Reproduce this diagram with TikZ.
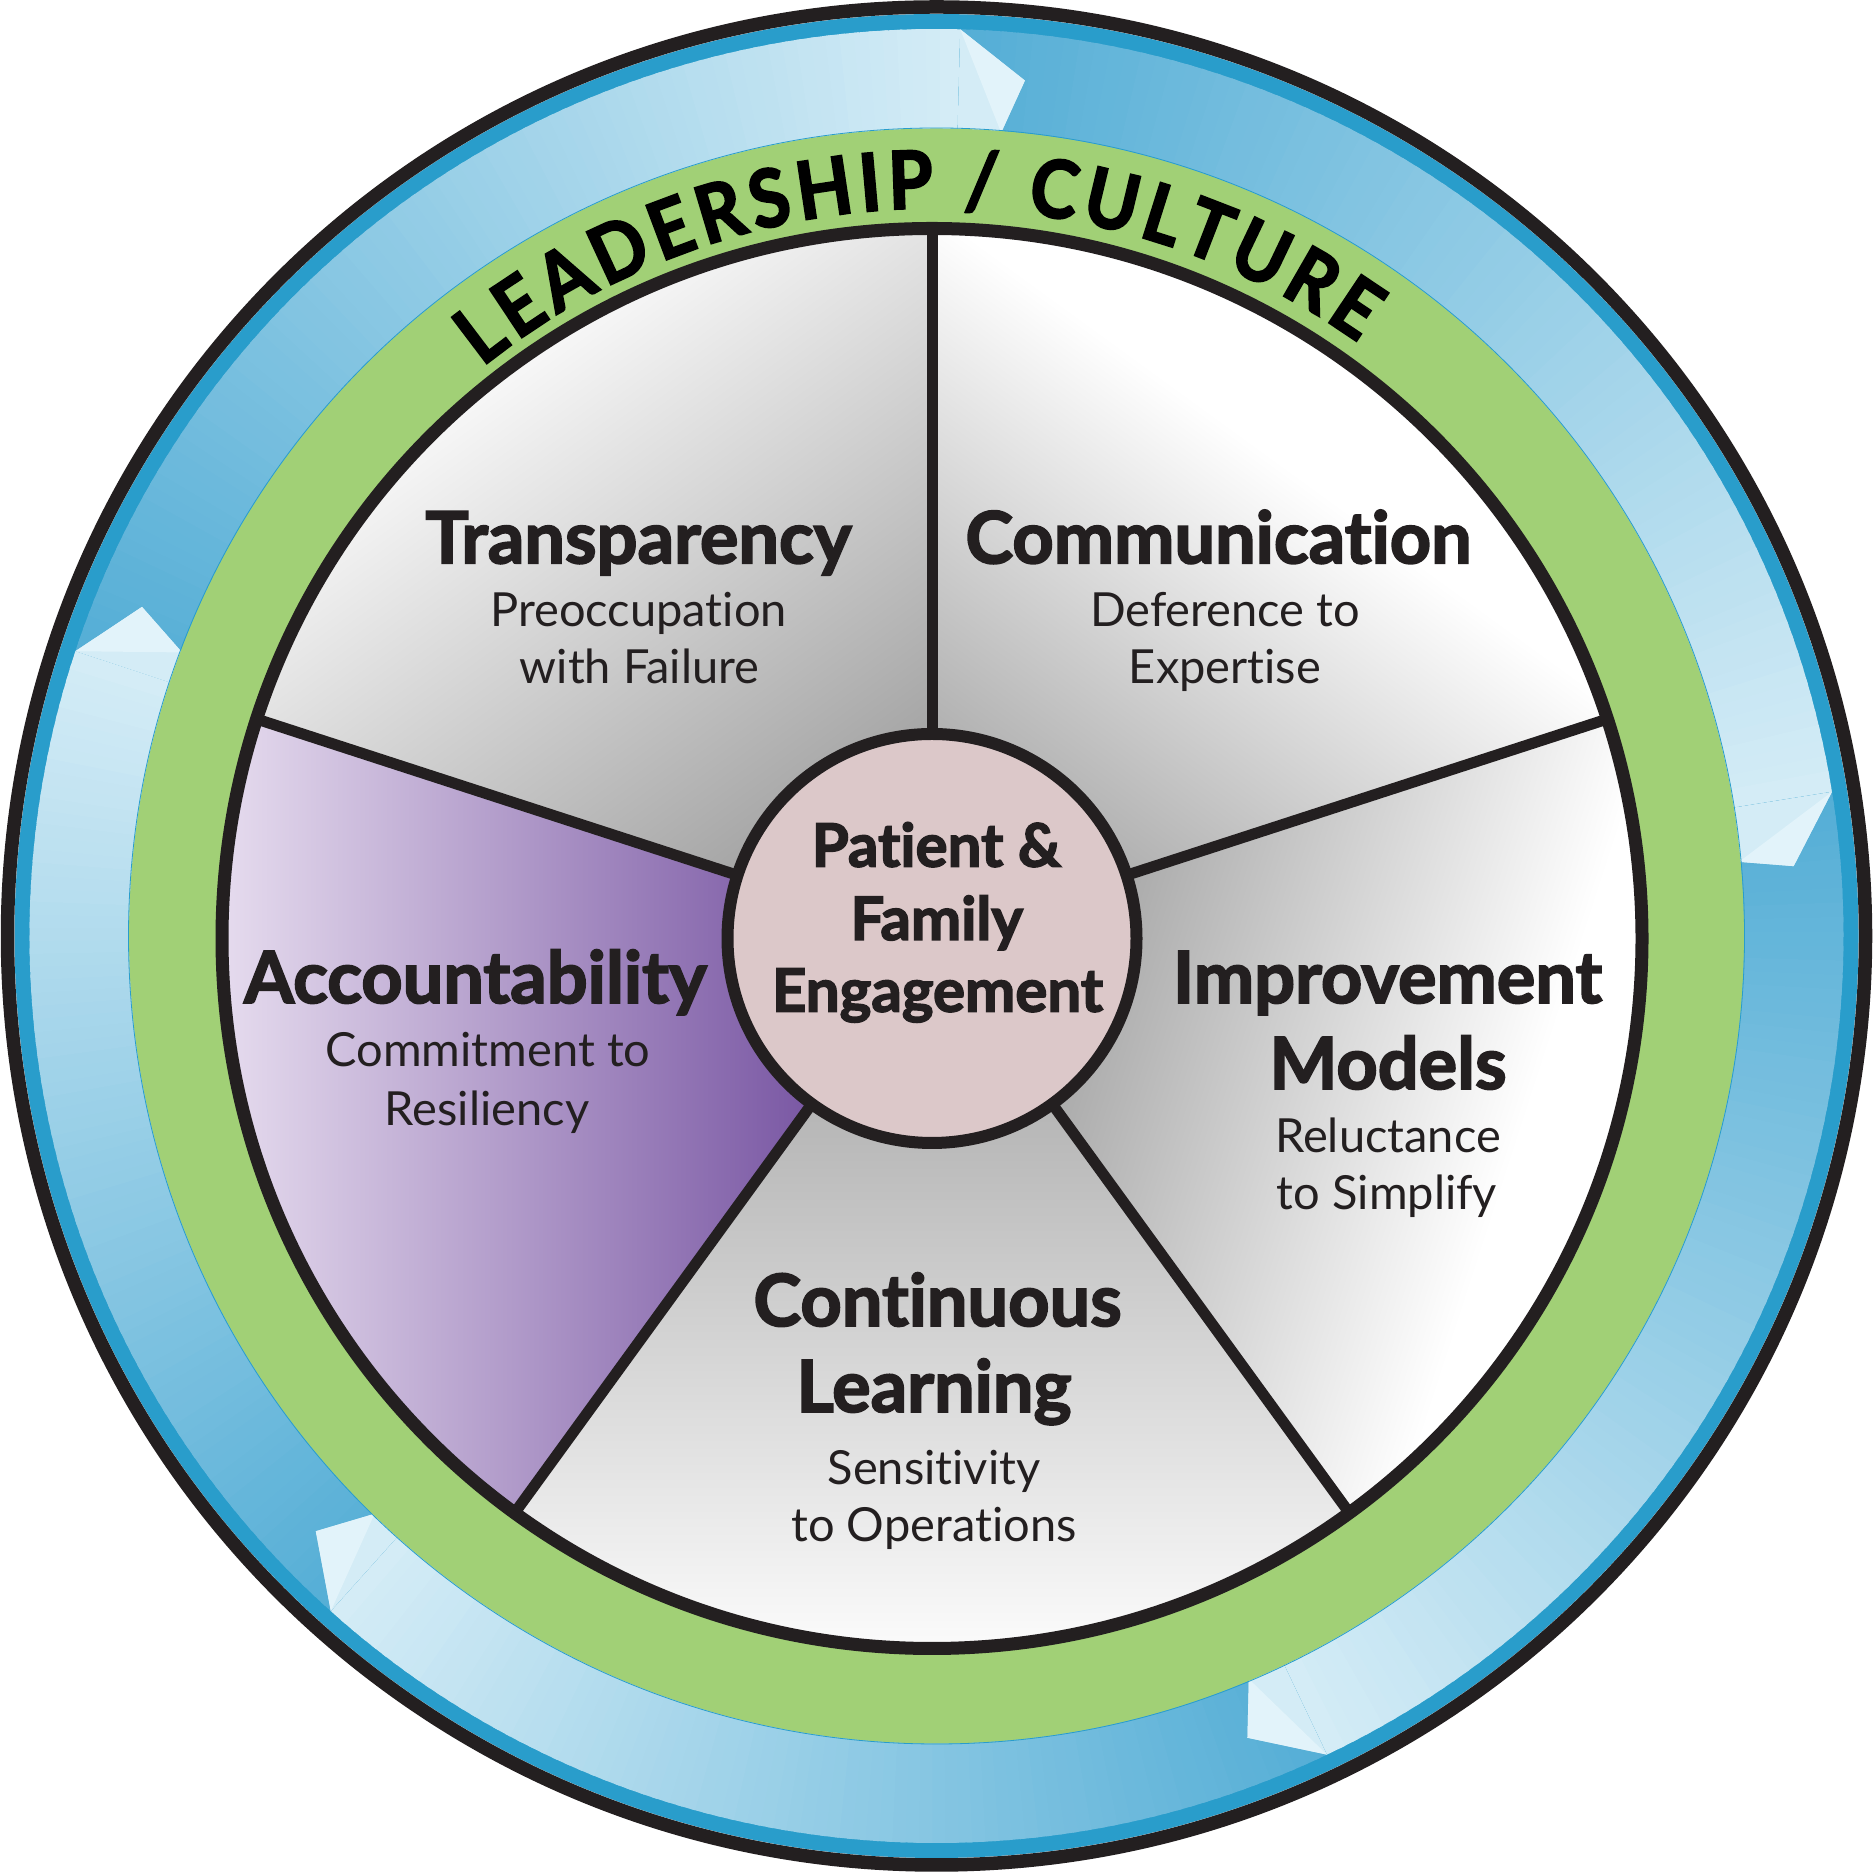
\documentclass[tikz,border=0pt]{standalone}
\usepackage{fontspec}
\usetikzlibrary{decorations.text}
\setmainfont{Lato}[Ligatures=NoCommon, BoldFeatures={FakeBold=2.5}]
\newfontfamily\arcfont{Lato}[Ligatures=NoCommon, UprightFeatures={FakeStretch=0.9}, BoldFeatures={FakeBold=2.5, FakeStretch=0.9}]
\definecolor{ink}{HTML}{231F20}
\definecolor{bldark}{RGB}{85,174,214}
\definecolor{blpale}{RGB}{212,236,246}
\definecolor{blfacet}{RGB}{226,243,250}
\definecolor{blband}{RGB}{41,157,203}
\definecolor{grn}{RGB}{161,208,118}
\definecolor{ctr}{RGB}{220,200,201}
\definecolor{accL}{RGB}{231,221,239}
\definecolor{accR}{RGB}{118,83,161}
\tikzset{
  head/.style={font=\fontsize{72}{72}\selectfont\bfseries, text=ink, anchor=base, inner sep=0pt},
  sub/.style={font=\fontsize{47}{47}\selectfont, text=ink, anchor=base, inner sep=0pt},
  coret/.style={font=\fontsize{60}{60}\selectfont\bfseries, text=ink, anchor=base, inner sep=0pt}
}
\begin{document}
\begin{tikzpicture}[x=1pt,y=1pt]
\useasboundingbox (0,0) rectangle (1873,1873);
\fill[white] (0,0) rectangle (1873,1873);
\coordinate (O) at (936.5,937);
\coordinate (P) at (932,934.5);
% dark outer band
\fill[blband] (O) circle[radius=922];
% arrow ring gradients
\foreach \s/\e in {161.7/88.5, 88.5/9.15, 9.15/-64.5, -64.5/-131.9, -131.9/-198.3} {
  \foreach \j in {0,...,79} {
    \pgfmathsetmacro\aa{\s-(\s-\e)*\j/80+(\j>0)*0.35}
    \pgfmathsetmacro\ab{\s-(\s-\e)*(\j+1)/80}
    \pgfmathtruncatemacro\pc{100*\j/79}
    \fill[blpale!\pc!bldark] ([shift={(\aa:907)}]O) arc[start angle=\aa, end angle=\ab, radius=907]
      -- ([shift={(\ab:805)}]O) arc[start angle=\ab, end angle=\aa, radius=805] -- cycle;
  }
}
% arrow heads
\foreach \h/\t/\i in {88.5/84.1/85.4, 9.15/4.66/5.28, -64.5/-68.8/-67.2, -131.9/-136.2/-134.2, 161.7/157.5/159.4} {
  \fill[blpale] ([shift={(\h:907)}]O) -- ([shift={(\t:860)}]O) -- ([shift={(\i:806)}]O)
    arc[start angle=\i, end angle=\h, radius=806] -- cycle;
  \fill[blfacet] ([shift={(\h:907)}]O) -- ([shift={(\t:860)}]O) -- ([shift={(\i:806)}]O) -- cycle;
}
% green ring
\fill[grn] (O) circle[radius=807.5];
\draw[blband, line width=0.8] (O) circle[radius=808];
% outer black circle
\draw[ink, line width=13.5] (O) circle[radius=929];
% curved title
\path[ink, decorate, decoration={text along path,
    text={|\arcfont\fontsize{80}{80}\selectfont\bfseries|LEADERSHIP / CULTURE},
    text align={fit to path}}]
  ([shift={(128.6:728)}]O) arc[start angle=128.6, end angle=54.6, radius=728];
% pie
\fill[white] (P) circle[radius=710];
\foreach \a/\b/\g/\L in {90/162/140/760, 18/90/145/590, -54/18/140/620, -126/-54/160/740} {
  \begin{scope}
    \clip (P) -- ([shift={(\a:711)}]P) arc[start angle=\a, end angle=\b, radius=711] -- cycle;
    \pgfmathsetmacro\bis{(\a+\b)/2}
    \definecolor{wg}{RGB}{\g,\g,\g}
    \begin{scope}[transform canvas={shift={(932,934.5)}, rotate=\bis}]
      \shade[left color=wg, right color=white] (0,-760) rectangle (\L,760);
    \end{scope}
  \end{scope}
}
\begin{scope}
  \clip (P) -- ([shift={(162:711)}]P) arc[start angle=162, end angle=234, radius=711] -- cycle;
  \shade[left color=accL, right color=accR] (215,340) rectangle (830,1170);
\end{scope}
\draw[ink, line width=13] (P) circle[radius=710];
\foreach \a in {90,18,-54,-126,162} {
  \draw[ink, line width=11] (P) -- ([shift={(\a:712)}]P);
}
\node[circle, fill=ctr, draw=ink, line width=12, minimum size=409, inner sep=0pt] (core) at (P) {};
% texts
\node[head] (tr) at (638.5,1309.7) {Transparency};
\node[sub] (tr1) at (638.5,1246.3) {Preoccupation};
\node[sub] (tr2) at (639.5,1189.7) {with Failure};
\node[head] (co) at (1218.5,1309.7) {Communication};
\node[sub] (co1) at (1225,1246.3) {Deference to};
\node[sub] (co2) at (1225,1189.7) {Expertise};
\node[head] (ac) at (475.4,870) {Accountability};
\node[sub] (ac1) at (488,806) {Commitment to};
\node[sub] (ac2) at (487,747) {Resiliency};
\node[head] (im) at (1387.5,870) {Improvement};
\node[head] (im2) at (1388,784) {Models};
\node[sub] (im3) at (1388,720.3) {Reluctance};
\node[sub] (im4) at (1387,663) {to Simplify};
\node[head] (cl) at (937.6,547) {Continuous};
\node[head] (cl2) at (934,461) {Learning};
\node[sub] (cl3) at (934,388) {Sensitivity};
\node[sub] (cl4) at (934,331) {to Operations};
\node[coret] (pf1) at (936.5,1006.3) {Patient \&};
\node[coret] (pf2) at (936.7,933) {Family};
\node[coret] (pf3) at (937.5,861.3) {Engagement};
\end{tikzpicture}
\end{document}
